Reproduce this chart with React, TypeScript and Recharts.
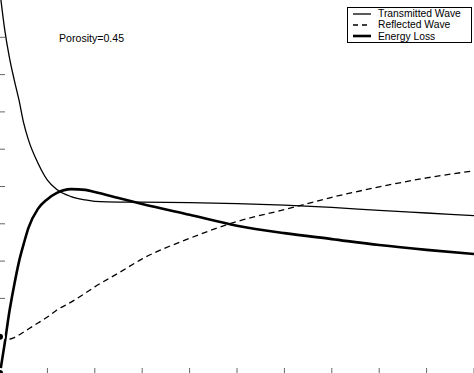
import React from 'react'
import {
  LineChart,
  Line,
  XAxis,
  YAxis,
} from 'recharts'

const xValues = [0, 0.1, 0.2, 0.3, 0.4, 0.5, 0.6, 0.8, 1.0, 1.2, 1.5, 1.8, 2, 2.5, 3, 4, 5, 6, 7, 8, 9, 10]
const transmitted = [10.21, 9.2, 8.45, 7.86, 7.32, 6.7, 6.25, 5.63, 5.17, 4.92, 4.73, 4.64, 4.6, 4.58, 4.58, 4.57, 4.54, 4.5, 4.44, 4.36, 4.29, 4.22]
const reflected = [0.97, 0.91, 0.91, 0.95, 1.02, 1.1, 1.18, 1.34, 1.5, 1.69, 1.9, 2.14, 2.31, 2.68, 3.06, 3.61, 4.06, 4.38, 4.71, 4.99, 5.23, 5.42]
const energyLoss = [0.0, 0.8, 1.66, 2.36, 2.98, 3.46, 3.89, 4.4, 4.66, 4.83, 4.93, 4.91, 4.85, 4.69, 4.53, 4.24, 3.95, 3.75, 3.59, 3.43, 3.3, 3.19]

const xTicks = [0, 1, 2, 3, 4, 5, 6, 7, 8, 9, 10]
const yTicks = [1, 2, 3, 4, 5, 6, 7, 8, 9]

const data = xValues.map((x, i) => ({
  x,
  transmitted: transmitted[i],
  reflected: reflected[i],
  energy: energyLoss[i],
}))

const font = '"Liberation Sans", Arial, sans-serif'

const legendItems = [
  { label: 'Transmitted Wave', width: 1.3, dash: undefined },
  { label: 'Reflected Wave', width: 1.3, dash: '5 4' },
  { label: 'Energy Loss', width: 2.6, dash: undefined },
]

const LegendBox = () => (
  <div
    style={{
      position: 'absolute',
      left: 347,
      top: 7,
      width: 118,
      height: 34,
      border: '1px solid #000',
      background: '#fff',
      padding: '0 0 0 5px',
      fontFamily: font,
      fontSize: 10.3,
      lineHeight: '11.3px',
      color: '#000',
    }}
  >
    {legendItems.map((it) => (
      <div key={it.label} style={{ display: 'flex', alignItems: 'center' }}>
        <svg width={18} height={8} style={{ marginRight: 7 }}>
          <line x1={0} y1={4} x2={18} y2={4} stroke="#000" strokeWidth={it.width} strokeDasharray={it.dash} />
        </svg>
        <span>{it.label}</span>
      </div>
    ))}
  </div>
)

const noTick = () => <g />

export default function App() {
  return (
    <div style={{ position: 'absolute', left: 0, top: 0, width: 474, height: 373, background: '#fff' }}>
      <LineChart width={474} height={373} data={data} margin={{ top: 0, right: 0, left: 0, bottom: 0 }}>
        <XAxis
          dataKey="x"
          type="number"
          domain={[0, 10]}
          ticks={xTicks}
          mirror
          axisLine={false}
          tickSize={5}
          tickLine={{ stroke: '#666', strokeWidth: 1 }}
          tick={noTick}
        />
        <YAxis
          type="number"
          domain={[0, 10]}
          ticks={yTicks}
          allowDataOverflow
          mirror
          axisLine={false}
          tickSize={5}
          tickLine={{ stroke: '#666', strokeWidth: 1 }}
          tick={noTick}
        />
        <Line type="monotone" dataKey="transmitted" stroke="#000" strokeWidth={1.3} dot={false} isAnimationActive={false} />
        <Line type="monotone" dataKey="reflected" stroke="#000" strokeWidth={1.3} strokeDasharray="6 4" dot={false} isAnimationActive={false} />
        <Line type="monotone" dataKey="energy" stroke="#000" strokeWidth={2.6} dot={false} isAnimationActive={false} />
      </LineChart>
      <LegendBox />
      <div style={{ position: 'absolute', left: 59, top: 32, fontFamily: font, fontSize: 10.6, color: '#000' }}>
        Porosity=0.45
      </div>
    </div>
  )
}
